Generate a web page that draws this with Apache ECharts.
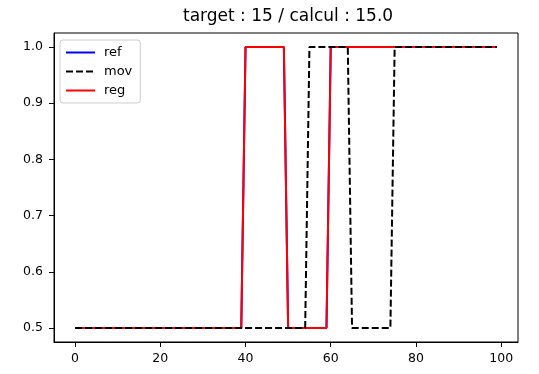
<!DOCTYPE html>
<html><head><meta charset="utf-8">
<script src="https://cdn.jsdelivr.net/npm/echarts@6/dist/echarts.min.js"></script>
<style>html,body{margin:0;padding:0;background:#fff}#c{width:539px;height:374px}</style>
</head><body><div id="c"></div>
<script>
var xs = [
 0,1,2,3,4,5,6,7,8,9,
 10,11,12,13,14,15,16,17,18,19,
 20,21,22,23,24,25,26,27,28,29,
 30,31,32,33,34,35,36,37,38,39,
 40,41,42,43,44,45,46,47,48,49,
 50,51,52,53,54,55,56,57,58,59,
 60,61,62,63,64,65,66,67,68,69,
 70,71,72,73,74,75,76,77,78,79,
 80,81,82,83,84,85,86,87,88,89,
 90,91,92,93,94,95,96,97,98,99];
var refVals = [
 0.5,0.5,0.5,0.5,0.5,0.5,0.5,0.5,0.5,0.5,
 0.5,0.5,0.5,0.5,0.5,0.5,0.5,0.5,0.5,0.5,
 0.5,0.5,0.5,0.5,0.5,0.5,0.5,0.5,0.5,0.5,
 0.5,0.5,0.5,0.5,0.5,0.5,0.5,0.5,0.5,0.5,
 1,1,1,1,1,1,1,1,1,1,
 0.5,0.5,0.5,0.5,0.5,0.5,0.5,0.5,0.5,0.5,
 1,1,1,1,1,1,1,1,1,1,
 1,1,1,1,1,1,1,1,1,1,
 1,1,1,1,1,1,1,1,1,1,
 1,1,1,1,1,1,1,1,1,1];
var movVals = [
 0.5,0.5,0.5,0.5,0.5,0.5,0.5,0.5,0.5,0.5,
 0.5,0.5,0.5,0.5,0.5,0.5,0.5,0.5,0.5,0.5,
 0.5,0.5,0.5,0.5,0.5,0.5,0.5,0.5,0.5,0.5,
 0.5,0.5,0.5,0.5,0.5,0.5,0.5,0.5,0.5,0.5,
 0.5,0.5,0.5,0.5,0.5,0.5,0.5,0.5,0.5,0.5,
 0.5,0.5,0.5,0.5,0.5,1,1,1,1,1,
 1,1,1,1,1,0.5,0.5,0.5,0.5,0.5,
 0.5,0.5,0.5,0.5,0.5,1,1,1,1,1,
 1,1,1,1,1,1,1,1,1,1,
 1,1,1,1,1,1,1,1,1,1];
var regVals = [
 0.5,0.5,0.5,0.5,0.5,0.5,0.5,0.5,0.5,0.5,
 0.5,0.5,0.5,0.5,0.5,0.5,0.5,0.5,0.5,0.5,
 0.5,0.5,0.5,0.5,0.5,0.5,0.5,0.5,0.5,0.5,
 0.5,0.5,0.5,0.5,0.5,0.5,0.5,0.5,0.5,0.5,
 1,1,1,1,1,1,1,1,1,1,
 0.5,0.5,0.5,0.5,0.5,0.5,0.5,0.5,0.5,0.5,
 1,1,1,1,1,1,1,1,1,1,
 1,1,1,1,1,1,1,1,1,1,
 1,1,1,1,1,1,1,1,1,1,
 1,1,1,1,1,1,1,1,1,1];
var xTicks = [0,20,40,60,80,100];
var yTicks = [0.5,0.6,0.7,0.8,0.9,1.0];
var titleText = 'target : 15 / calcul : 15.0';
var names = ['ref','mov','reg'];

function pairs(v){ return xs.map(function(x,i){ return [x, v[i]]; }); }
var font = 'DejaVu Sans';
var chart = echarts.init(document.getElementById('c'), null, {renderer:'canvas'});
chart.setOption({
  animation:false,
  backgroundColor:'#fff',
  title:{text:titleText, left:183, top:8, padding:0,
    textStyle:{fontFamily:font,fontSize:17,fontWeight:'normal',color:'#000'}},
  grid:{left:54,right:21,top:33,bottom:32,show:true,borderColor:'#000',borderWidth:1,outerBoundsMode:'none'},
  legend:{data:names, orient:'vertical', left:60, top:40, itemWidth:29, itemHeight:14, itemGap:6,
    padding:[6,8,6,5], borderColor:'#cccccc', borderWidth:1, borderRadius:3, backgroundColor:'rgba(255,255,255,0.8)',
    itemStyle:{opacity:0},
    textStyle:{fontFamily:font,fontSize:13,color:'#000',padding:[0,0,0,4]}},
  xAxis:{type:'value', min:-4.95, max:103.95,
    axisLine:{show:true,onZero:false,lineStyle:{color:'#000',width:1}},
    axisTick:{show:true,length:5,customValues:xTicks,lineStyle:{color:'#000'}},
    axisLabel:{customValues:xTicks,margin:10,fontFamily:font,fontSize:12.5,color:'#000'},
    splitLine:{show:false}},
  yAxis:{type:'value', min:0.475, max:1.025,
    axisLine:{show:true,onZero:false,lineStyle:{color:'#000',width:1}},
    axisTick:{show:true,length:5,customValues:yTicks,lineStyle:{color:'#000'}},
    axisLabel:{customValues:yTicks,margin:11,fontFamily:font,fontSize:12.5,color:'#000',
      formatter:function(v){return v.toFixed(1);}},
    splitLine:{show:false}},
  series:[
    {name:'ref',type:'line',data:pairs(refVals),symbol:'none',z:2,
      lineStyle:{color:'#0000ff',width:2},itemStyle:{color:'#0000ff'}},
    {name:'mov',type:'line',data:pairs(movVals),symbol:'none',z:4,
      lineStyle:{color:'#000000',width:2,type:[7,3]},itemStyle:{color:'#000000'}},
    {name:'reg',type:'line',data:pairs(regVals),symbol:'none',z:3,
      lineStyle:{color:'#ff0000',width:2},itemStyle:{color:'#ff0000'}}
  ]
});
</script></body></html>
